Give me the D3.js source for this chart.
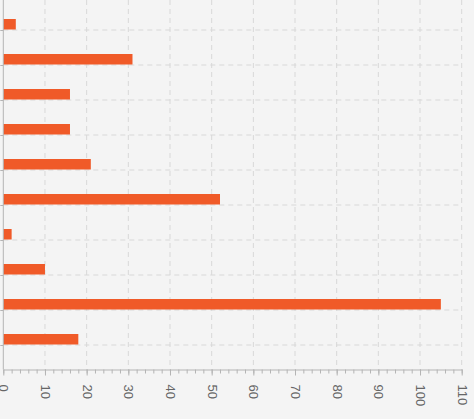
<!DOCTYPE html>
<html>
<head>
<meta charset="utf-8">
<script src="https://cdn.jsdelivr.net/npm/d3@7"></script>
<style>
  html, body { margin: 0; padding: 0; background: #f4f4f4; }
  svg { display: block; }
</style>
</head>
<body>
<div id="chart"></div>
<script>
// categories top to bottom (their labels are cut off in the reference)
const categorias = ["c1", "c2", "c3", "c4", "c5", "c6", "c7", "c8", "c9", "c10"];
const valores = [3, 31, 16, 16, 21, 52, 2, 10, 105, 18];
const xTicks = [0, 10, 20, 30, 40, 50, 60, 70, 80, 90, 100, 110];
const xMinorTicks = d3.range(0, 111, 2);

const width = 474, height = 419;
const plotLeft = 3.3, plotRight = 461.7, plotTop = 0, plotBottom = 369.5;

const svg = d3.select("#chart")
    .append("svg")
    .attr("width", width)
    .attr("height", height);

svg.append("rect")
    .attr("width", width)
    .attr("height", height)
    .attr("fill", "#f4f4f4");

const xScale = d3.scaleLinear()
    .domain([0, 110])
    .range([plotLeft, plotRight]);

const yScale = d3.scalePoint()
    .domain(categorias)
    .range([30, 345]);

// lineas de la grilla
svg.append("g")
    .selectAll("line")
    .data(xTicks.slice(1))
    .enter()
    .append("line")
    .attr("x1", d => xScale(d))
    .attr("x2", d => xScale(d))
    .attr("y1", plotTop)
    .attr("y2", plotBottom)
    .attr("stroke", "#d8d8d8")
    .attr("stroke-dasharray", "5,4");

svg.append("g")
    .selectAll("line")
    .data(categorias)
    .enter()
    .append("line")
    .attr("x1", plotLeft)
    .attr("x2", plotRight)
    .attr("y1", d => yScale(d))
    .attr("y2", d => yScale(d))
    .attr("stroke", "#d8d8d8")
    .attr("stroke-dasharray", "5,4");

// barras
svg.append("g")
    .selectAll("rect")
    .data(valores)
    .enter()
    .append("rect")
    .attr("x", xScale(0))
    .attr("y", (d, i) => yScale(categorias[i]) - 11)
    .attr("width", d => xScale(d) - xScale(0))
    .attr("height", 10.5)
    .attr("fill", "#f05a28");

// eje x: ticks menores
const axisColor = "#b4b4b4";
svg.append("g")
    .attr("transform", `translate(0,${plotBottom})`)
    .call(d3.axisBottom(xScale).tickValues(xMinorTicks).tickSize(4).tickFormat(""))
    .call(g => g.select(".domain").remove())
    .call(g => g.selectAll("line").attr("stroke", axisColor));

// eje x: ticks mayores y etiquetas
const xAxis = svg.append("g")
    .attr("transform", `translate(0,${plotBottom})`)
    .call(d3.axisBottom(xScale).tickValues(xTicks).tickSize(6).tickSizeOuter(0));

xAxis.select(".domain").attr("stroke", axisColor);
xAxis.selectAll("line").attr("stroke", axisColor);
xAxis.selectAll("text")
    .attr("transform", "rotate(90)")
    .attr("x", 15)
    .attr("y", 0)
    .attr("dy", "0.35em")
    .attr("text-anchor", "start")
    .attr("fill", "#666")
    .style("font-family", "'Liberation Sans', Arial, sans-serif")
    .style("font-size", "13px");

// eje y
const yAxis = svg.append("g")
    .attr("transform", `translate(${plotLeft},0)`)
    .call(d3.axisLeft(yScale).tickSize(3).tickSizeOuter(0).tickFormat(""));

yAxis.select(".domain").attr("d", `M0,${plotTop}V${plotBottom}`).attr("stroke", axisColor);
yAxis.selectAll("line").attr("stroke", axisColor);
</script>
</body>
</html>
